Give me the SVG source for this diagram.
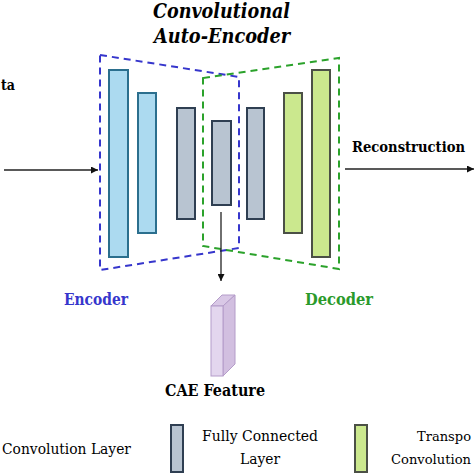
<svg xmlns="http://www.w3.org/2000/svg" width="474" height="474" viewBox="0 0 474 474">
<defs>
<style>
text{font-family:'DejaVu Serif','Liberation Serif',serif;}
.b{font-weight:bold;}
.title{font-weight:bold;font-style:italic;font-size:20px;}
.conv{fill:#acdaf0;stroke:#2b6f8e;stroke-width:2;}
.fc{fill:#b8c4d1;stroke:#2f3f52;stroke-width:2;}
.tc{fill:#cbe88e;stroke:#4b5046;stroke-width:2;}
.enc{fill:none;stroke:#3636cc;stroke-width:2;stroke-dasharray:7,5;}
.dec{fill:none;stroke:#2ba22b;stroke-width:2;stroke-dasharray:7,5;}
.arr{stroke:#222;stroke-width:1.3;fill:none;}
</style>
<marker id="ah" viewBox="0 0 10 10" refX="10" refY="5" markerWidth="7" markerHeight="7" orient="auto" markerUnits="userSpaceOnUse">
<path d="M0,0 L10,5 L0,10 Z" fill="#111"/>
</marker>
</defs>
<rect width="474" height="474" fill="#fff"/>

<text class="title" x="153" y="18" textLength="137" lengthAdjust="spacingAndGlyphs">Convolutional</text>
<text class="title" x="154" y="43" textLength="136" lengthAdjust="spacingAndGlyphs">Auto-Encoder</text>

<g id="encoder-frame"><polygon class="enc" points="100,55 239,77 239,248 100,270"/></g>
<g id="decoder-frame"><polygon class="dec" points="203,78 339,58 339,269 203,246"/></g>

<g id="conv1"><rect class="conv" x="109" y="70" width="19" height="187"/></g>
<g id="conv2"><rect class="conv" x="138" y="93" width="18" height="140"/></g>
<g id="fc1"><rect class="fc" x="177" y="108" width="18" height="111"/></g>
<g id="fc2"><rect class="fc" x="212" y="121" width="19" height="84"/></g>
<g id="fc3"><rect class="fc" x="247" y="108" width="17" height="111"/></g>
<g id="tconv1"><rect class="tc" x="284" y="93" width="18" height="140"/></g>
<g id="tconv2"><rect class="tc" x="312" y="70" width="18" height="187"/></g>

<g id="connectors">
<line class="arr" x1="4" y1="170" x2="98" y2="170" marker-end="url(#ah)"/>
<line class="arr" x1="345" y1="169" x2="474" y2="169" marker-end="url(#ah)"/>
<line class="arr" x1="221" y1="212" x2="221" y2="281" marker-end="url(#ah)"/>
</g>

<g id="cae-feature">
<polygon points="211,306 223,306 235,295 222,295" fill="#d9c8e6" stroke="#b49cc9" stroke-width="1"/>
<polygon points="223,306 235,295 235,364 223,376" fill="#d2bfe0" stroke="#b49cc9" stroke-width="1"/>
<rect x="211" y="306" width="12" height="70" fill="#e3d6ee" stroke="#b49cc9" stroke-width="1"/>
</g>

<text class="b" x="1" y="90" font-size="15" textLength="14" lengthAdjust="spacingAndGlyphs">ta</text>
<text class="b" x="352" y="152" font-size="14" textLength="113" lengthAdjust="spacingAndGlyphs">Reconstruction</text>
<text class="b" x="64" y="305" font-size="16" fill="#3636cc" textLength="64" lengthAdjust="spacingAndGlyphs">Encoder</text>
<text class="b" x="305" y="305" font-size="16" fill="#2b9a2b" textLength="68" lengthAdjust="spacingAndGlyphs">Decoder</text>
<text class="b" x="165" y="396" font-size="16" textLength="100" lengthAdjust="spacingAndGlyphs">CAE Feature</text>

<g id="legend">
<text x="2" y="454" font-size="14" textLength="129" lengthAdjust="spacingAndGlyphs">Convolution Layer</text>
<rect class="fc" x="171" y="425" width="12" height="47"/>
<text x="202" y="441" font-size="14" textLength="116" lengthAdjust="spacingAndGlyphs">Fully Connected</text>
<text x="240" y="464" font-size="14" textLength="40" lengthAdjust="spacingAndGlyphs">Layer</text>
<rect class="tc" x="355" y="425" width="12" height="47"/>
<text x="417" y="441" font-size="13" textLength="54" lengthAdjust="spacingAndGlyphs">Transpo</text>
<text x="391" y="464" font-size="13" textLength="80" lengthAdjust="spacingAndGlyphs">Convolution</text>
</g>
</svg>
